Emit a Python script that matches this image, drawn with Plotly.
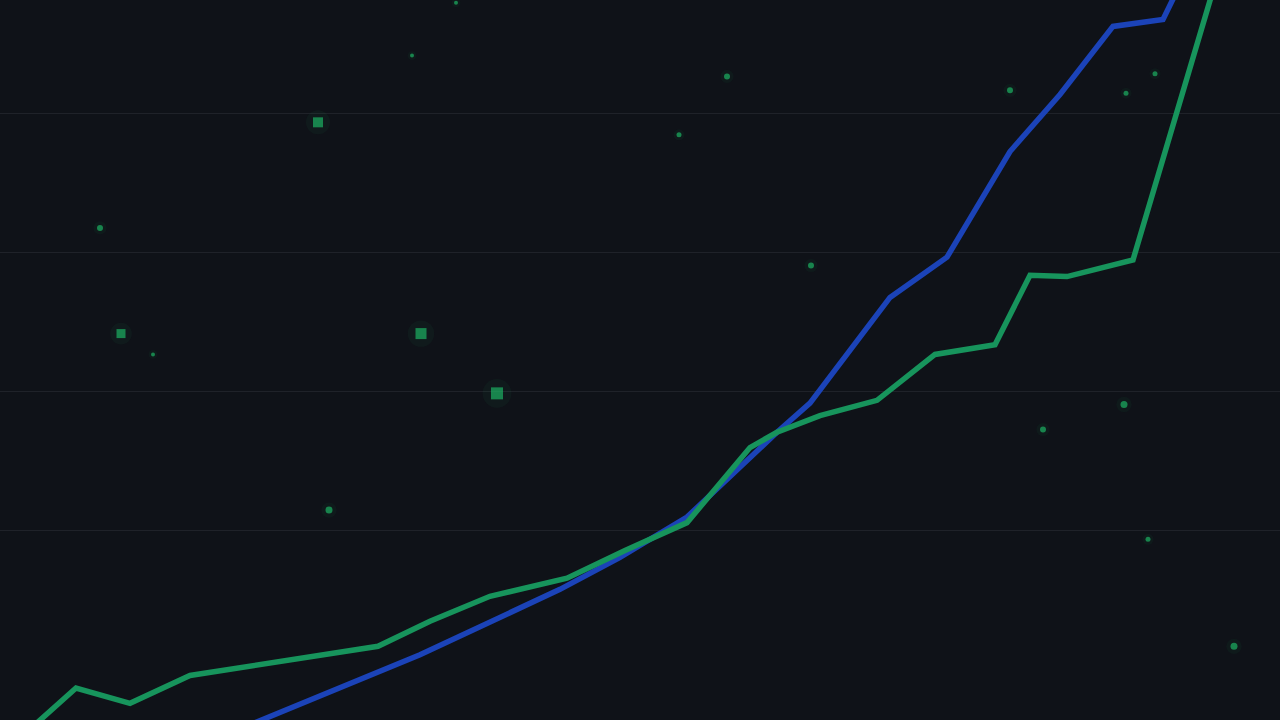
import plotly.graph_objects as go

# Line series (x position, value)
green_x = [20, 76, 130, 190, 378, 430, 490, 567, 625, 687, 750, 777, 820, 877, 935, 995, 1030, 1067, 1133, 1225]
green_y = [-0.49, -0.13, -0.24, -0.04, 0.17, 0.35, 0.53, 0.66, 0.86, 1.06, 1.60, 1.71, 1.83, 1.94, 2.27, 2.34, 2.84, 2.83, 2.95, 5.18]

blue_x = [238, 420, 560, 620, 687, 777, 810, 890, 947, 1010, 1060, 1113, 1163, 1180]
blue_y = [-0.43, 0.11, 0.58, 0.81, 1.10, 1.71, 1.92, 2.68, 2.97, 3.73, 4.14, 4.63, 4.68, 4.93]

# Scattered dots: square markers (larger) and round markers (small)
sq_x = [318, 121, 421, 497]
sq_y = [3.94, 2.42, 2.42, 1.99]
sq_size = [10, 9, 11, 12]

dot_x = [456, 412, 100, 153, 329, 727, 679, 811, 1010, 1126, 1155, 1043, 1124, 1148, 1234]
dot_y = [4.80, 4.42, 3.18, 2.27, 1.15, 4.27, 3.85, 2.91, 4.17, 4.15, 4.29, 1.73, 1.91, 0.94, 0.17]
dot_size = [4, 4, 6, 4, 7, 6, 5, 6, 6, 5, 5, 6, 7, 5, 7]

grid_vals = [1, 2, 3, 4]

BG = "#0f1218"
GREEN = "#17945c"
BLUE = "#1b43b8"
DOT = "#1cb263"

fig = go.Figure()

# soft glow behind markers
fig.add_trace(go.Scatter(
    x=sq_x, y=sq_y, mode="markers",
    marker=dict(symbol="circle", size=[s * 2.4 for s in sq_size], color=DOT, opacity=0.06, line=dict(width=0)),
    hoverinfo="skip", showlegend=False))
fig.add_trace(go.Scatter(
    x=dot_x, y=dot_y, mode="markers",
    marker=dict(symbol="circle", size=[s * 2.2 for s in dot_size], color=DOT, opacity=0.05, line=dict(width=0)),
    hoverinfo="skip", showlegend=False))

fig.add_trace(go.Scatter(
    x=sq_x, y=sq_y, mode="markers",
    marker=dict(symbol="square", size=sq_size, color=DOT, line=dict(width=0)),
    showlegend=False))
fig.add_trace(go.Scatter(
    x=dot_x, y=dot_y, mode="markers",
    marker=dict(symbol="circle", size=dot_size, color=DOT, line=dict(width=0)),
    showlegend=False))

fig.add_trace(go.Scatter(
    x=blue_x, y=blue_y, mode="lines",
    line=dict(color=BLUE, width=5.5), showlegend=False))
fig.add_trace(go.Scatter(
    x=green_x, y=green_y, mode="lines",
    line=dict(color=GREEN, width=5.5), showlegend=False))

fig.update_layout(
    width=1280, height=720,
    margin=dict(l=0, r=0, t=0, b=0),
    paper_bgcolor=BG, plot_bgcolor=BG,
    showlegend=False,
)
fig.update_xaxes(range=[0, 1280], showgrid=False, zeroline=False, showticklabels=False, visible=False)
fig.update_yaxes(range=[-0.36, 4.82], tickmode="array", tickvals=grid_vals,
                 showgrid=True, gridcolor="#1f2229", gridwidth=1.2,
                 zeroline=False, showticklabels=False, ticks="", showline=False)

fig.write_html(
    "out.html",
    config={"displayModeBar": False},
    post_script="document.body.style.margin='0';document.body.style.overflow='hidden';document.body.style.background='#0f1218';",
)
